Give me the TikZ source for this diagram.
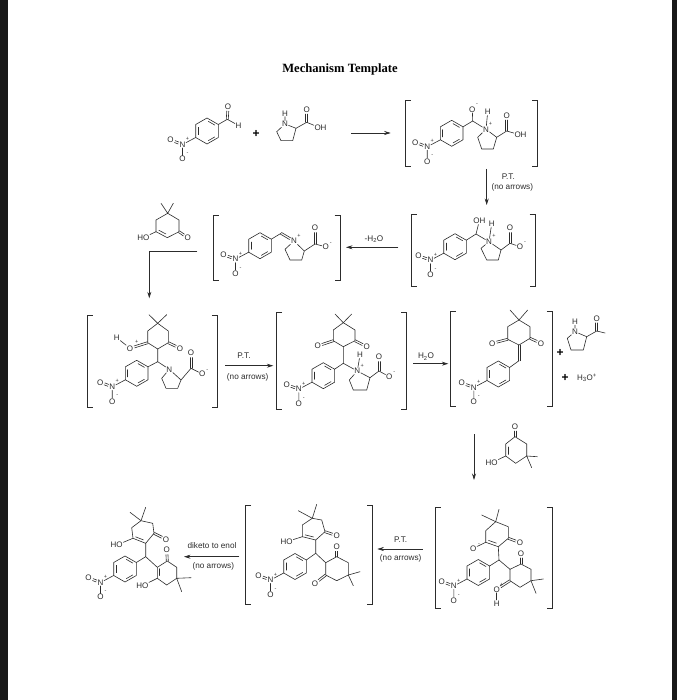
\documentclass[tikz,border=0pt]{standalone}
\usepackage{fontspec}
\setmainfont{Liberation Sans}
\newfontfamily\titlefont{Liberation Serif}
\usetikzlibrary{calc,arrows.meta}
\definecolor{ink}{HTML}{2c2c2c}
\newcommand\atomfont{\fontsize{8}{9}\selectfont}
\newcommand\labelfont{\fontsize{8.2}{9}\selectfont}
\tikzset{
  bond/.style={draw=ink,line width=.6pt,line cap=round,line join=round},
  atom/.style={inner sep=.5pt,text=ink,font=\atomfont},
  chg/.style={inner sep=0pt,text=ink,font=\fontsize{5.5}{6}\selectfont},
  lbl/.style={inner sep=0pt,text=ink,font=\labelfont},
  bigplus/.style={inner sep=0pt,text=black,font=\fontsize{12}{12}\selectfont\bfseries},
  brack/.style={draw=ink,line width=1pt,line cap=butt,line join=miter},
  rxn/.style={draw=ink,line width=.65pt,-{Stealth[length=6.5pt,width=4pt]}},
}
\newcommand\pts[1]{\foreach \n/\x/\y in {#1} {\coordinate (\n) at (\x,\y);}}
\newcommand\atm[4]{\node[atom] (#1) at (#2,#3) {#4};}
\newcommand\chgn[4]{\node[chg] (#1) at (#2,#3) {#4};}
\newcommand\lab[4]{\node[lbl] (#1) at (#2,#3) {#4};}
\newcommand\mybracket[4]{%
  \draw[brack] (#1+5.5,#3) -- (#1,#3) -- (#1,#4) -- (#1+5.5,#4);
  \draw[brack] (#2-5.5,#3) -- (#2,#3) -- (#2,#4) -- (#2-5.5,#4);}
% two parallel strokes: start trim, end trim, from, to
\newcommand\dbx[4]{%
  \draw[bond,shorten <=#1,shorten >=#2] ($(#3)!1pt!90:(#4)$) -- ($(#4)!1pt!-90:(#3)$);
  \draw[bond,shorten <=#1,shorten >=#2] ($(#3)!1pt!-90:(#4)$) -- ($(#4)!1pt!90:(#3)$);}
\newcommand\dbl[2]{\dbx{0pt}{4.6pt}{#1}{#2}}
\newcommand\cdb[3]{\draw[bond] ($($(#1)!.15!(#2)$)!.12!(#3)$) -- ($($(#2)!.15!(#1)$)!.12!(#3)$);}
\newcommand\aryl[3]{%
  \begin{scope}[shift={(#2,#3)}]
    \coordinate (#1c) at (0,0);
    \coordinate (#1t) at (0,-13);
    \coordinate (#1u) at (11.3,-6.5);
    \coordinate (#1r) at (11.3,6.5);
    \coordinate (#1b) at (0,13);
    \coordinate (#1l) at (-11.3,6.5);
    \coordinate (#1v) at (-11.3,-6.5);
    \node[atom] (#1N) at (-24.5,13.5) {N};
    \node[atom] (#1O) at (-36.5,9) {O};
    \node[atom] (#1P) at (-24.5,28) {O};
    \node[chg] (#1s) at (-19.5,8) {+};
    \node[chg] (#1m) at (-19.5,22.7) {-};
  \end{scope}
  \draw[bond] (#1t) -- (#1u) -- (#1r) -- (#1b) -- (#1l) -- (#1v) -- cycle;
  \foreach \p/\q in {#1t/#1u,#1r/#1b,#1l/#1v}
    \draw[bond] ($($(\p)!.15!(\q)$)!.2!(#1c)$) -- ($($(\q)!.15!(\p)$)!.2!(#1c)$);
  \draw[bond] (#1l) -- (#1N) -- (#1P);
  \dbx{4.2pt}{4.6pt}{#1N}{#1O}}
\begin{document}
\begin{tikzpicture}[x=1pt,y=-1pt]
\useasboundingbox (0,0) rectangle (677,700);
\fill[white] (0,0) rectangle (677,700);
\fill[black!90] (0,0) rectangle (8,700);
\fill[black!90] (672,0) rectangle (677,700);

\node[inner sep=0pt,text=black,font=\titlefont\fontsize{12.6}{14}\selectfont\bfseries] (title) at (340,69.5) {Mechanism Template};

% ---- row 1: aldehyde
\aryl{A}{207}{131}
\pts{a2/227.3/119.3}
\atm{aO}{228}{106.5}{O}
\atm{aH}{238.5}{125.5}{H}
\draw[bond] (Au) -- (a2) -- (aH);
\dbl{a2}{aO}
\node[bigplus] (plusA) at (256,134) {+};
% proline
\pts{b2/296/128.3,b3/292.7/140.7,b4/281/140.7,b5/276.7/131.7,b6/306.7/122.3}
\atm{bN}{285}{124}{N}
\atm{bH}{285}{113.3}{H}
\atm{bO}{306.7}{109.5}{O}
\atm{bOH}{320.5}{128}{OH}
\draw[bond] (bH) -- (bN) -- (b2) -- (b3) -- (b4) -- (b5) -- (bN);
\draw[bond] (b2) -- (b6) -- (bOH);
\dbl{b6}{bO}
\coordinate (r1s) at (351.3,133);
\coordinate (r1e) at (390.7,133);
\draw[rxn] (r1s) -- (r1e);

% hemiaminal alkoxide
\mybracket{405}{537.7}{100.7}{166.7}
\aryl{C}{451.7}{133.3}
\pts{c1/472.7/121,c2/496.7/137.3,c3/493.3/149,c4/481.7/149,c5/477.7/137.3,c6/506.7/131}
\atm{cO}{472.3}{109.3}{O}
\chgn{cm}{477}{104.5}{-}
\atm{cN}{486}{129.3}{N}
\atm{cH}{487.7}{112}{H}
\chgn{cp}{490.5}{124}{+}
\atm{cO2}{506.7}{115.5}{O}
\atm{cOH}{520.5}{135}{OH}
\draw[bond] (Cu) -- (c1) -- (cO);
\draw[bond] (c1) -- (cN) -- (c2) -- (c3) -- (c4) -- (c5) -- (cN);
\draw[bond] (c2) -- (c6) -- (cOH);
\dbl{c6}{cO2}
\draw[bond] (cN) -- (cH);
\coordinate (r2s) at (486.7,169);
\coordinate (r2e) at (486.7,205);
\draw[rxn] (r2s) -- (r2e);
\lab{r2a}{508.3}{176.7}{P.T.}
\lab{r2b}{512.3}{187}{(no arrows)}

% ---- row 2 right: protonated hemiaminal
\mybracket{411}{535}{214.3}{286.7}
\aryl{D}{455}{246.7}
\pts{d1/476/234,d2/501/250,d3/498.3/260,d4/486.7/260,d5/481/248.3,d6/510/243.3}
\atm{dOH}{479.3}{221}{OH}
\atm{dH}{491.7}{223.7}{H}
\atm{dN}{489}{241.7}{N}
\chgn{dp}{494}{236}{+}
\atm{dO}{510}{228}{O}
\atm{dP}{520}{246.7}{O}
\chgn{dm}{525}{242.3}{-}
\draw[bond] (Du) -- (d1) -- (dOH);
\draw[bond] (d1) -- (dN) -- (d2) -- (d3) -- (d4) -- (d5) -- (dN);
\draw[bond] (d2) -- (d6) -- (dP);
\dbl{d6}{dO}
\draw[bond] (dN) -- (dH);
\coordinate (r3s) at (398.3,247.3);
\coordinate (r3e) at (346,247.3);
\draw[rxn] (r3s) -- (r3e);
\lab{r3a}{374}{239}{-H\textsubscript{2}O}

% iminium
\mybracket{213.3}{340}{216}{280.7}
\aryl{E}{260}{245.7}
\pts{e1/281/233.3,e2/304.3/251,e3/301.7/260,e4/290/260,e5/285/249.3,e6/315/244}
\atm{eN}{294}{241}{N}
\chgn{ep}{299}{235.7}{+}
\atm{eO}{315}{228}{O}
\atm{eP}{325.7}{246.7}{O}
\chgn{em}{330.7}{243.3}{-}
\draw[bond] (Eu) -- (e1);
\dbl{e1}{eN}
\draw[bond] (eN) -- (e2) -- (e3) -- (e4) -- (e5) -- (eN);
\draw[bond] (e2) -- (e6) -- (eP);
\dbl{e6}{eO}

% dimedone enol (top left)
\pts{f1/167.7/213.3,fa/161/203.3,fb/173.3/203.3,f2/156/220,f3/156/231.7,f4/167.3/237.7,f5/179/231.7,f6/179/220}
\atm{fO}{187.7}{237.7}{O}
\atm{fHO}{143.3}{237.7}{HO}
\draw[bond] (fa) -- (f1) -- (fb);
\draw[bond] (f1) -- (f2) -- (f3) -- (f4) -- (f5) -- (f6) -- (f1);
\draw[bond] (f3) -- (fHO);
\cdb{f3}{f4}{f1}
\dbl{f5}{fO}
\coordinate (r4s) at (197.3,251);
\coordinate (r4c) at (149.3,251);
\coordinate (r4e) at (149.3,298.3);
\draw[rxn] (r4s) -- (r4c) -- (r4e);

% ---- row 3 left
\mybracket{87.3}{217.3}{315.7}{407.3}
\aryl{G}{136.7}{373.3}
\pts{g1/157.7/323.3,ga/149/314.7,gb/166.7/314.7,g2/147.7/331,g3/147.7/342.7,g4/157.7/349,g5/168.3/342.7,g6/168.3/331,g7/157.7/361.7,h2/181/380,h3/177.7/388.3,h4/166/388.3,h5/161.7/378.3,h6/191/368.3}
\atm{gO}{180}{348.3}{O}
\atm{gQ}{130}{348.3}{O}
\chgn{gp}{136.7}{342.3}{+}
\atm{gH}{116.7}{337.7}{H}
\atm{hN}{169.3}{369.3}{N}
\atm{hO}{191}{353}{O}
\atm{hP}{202.3}{374}{O}
\chgn{hm}{207.3}{370.7}{-}
\draw[bond] (ga) -- (g1) -- (gb);
\draw[bond] (g1) -- (g2) -- (g3) -- (g4) -- (g5) -- (g6) -- (g1);
\dbl{g5}{gO}
\dbl{g3}{gQ}
\draw[bond] (gQ) -- (gH);
\draw[bond] (g4) -- (g7) -- (Gu);
\draw[bond] (g7) -- (hN) -- (h2) -- (h3) -- (h4) -- (h5) -- (hN);
\draw[bond] (h2) -- (h6) -- (hP);
\dbl{h6}{hO}
\coordinate (r5s) at (225,365.7);
\coordinate (r5e) at (273.3,365.7);
\draw[rxn] (r5s) -- (r5e);
\lab{r5a}{244}{356}{P.T.}
\lab{r5b}{247.7}{377}{(no arrows)}

% ---- row 3 middle
\mybracket{276.7}{406.7}{312.7}{409.3}
\aryl{I}{323.3}{375.7}
\pts{i1/343.3/322.7,ia/335/314,ib/351.7/314,i2/333.3/330,i3/333.3/340.7,i4/343.3/346.7,i5/355/340.7,i6/355/330,i7/343.3/363.3,j2/370/377.7,j3/366.7/390,j4/353.3/390,j5/349.3/380,j6/379/371}
\atm{iO}{317.7}{346}{O}
\atm{iQ}{366.7}{346.7}{O}
\atm{jN}{357.3}{371}{N}
\atm{jH}{360}{355}{H}
\chgn{jp}{362.3}{366}{+}
\atm{jO}{379}{357}{O}
\atm{jP}{389.3}{376.7}{O}
\chgn{jm}{394.3}{372.7}{-}
\draw[bond] (ia) -- (i1) -- (ib);
\draw[bond] (i1) -- (i2) -- (i3) -- (i4) -- (i5) -- (i6) -- (i1);
\dbl{i3}{iO}
\dbl{i5}{iQ}
\draw[bond] (i4) -- (i7) -- (Iu);
\draw[bond] (i7) -- (jN) -- (j2) -- (j3) -- (j4) -- (j5) -- (jN);
\draw[bond] (j2) -- (j6) -- (jP);
\dbl{j6}{jO}
\draw[bond] (jN) -- (jH);
\coordinate (r6s) at (413.3,363.7);
\coordinate (r6e) at (448.3,363.7);
\draw[rxn] (r6s) -- (r6e);
\lab{r6a}{426}{356.7}{H\textsubscript{2}O}

% ---- row 3 right
\mybracket{450}{552.3}{311.7}{406}
\aryl{K}{498.3}{374}
\pts{k1/519/320,ka/510/310,kb/527.7/310,k2/507.7/326.7,k3/507.7/339.3,k4/519/345,k5/530/338.3,k6/530/326.7,k7/519/360.7}
\atm{kO}{492.3}{343.3}{O}
\atm{kQ}{541}{343.3}{O}
\draw[bond] (ka) -- (k1) -- (kb);
\draw[bond] (k1) -- (k2) -- (k3) -- (k4) -- (k5) -- (k6) -- (k1);
\dbl{k3}{kO}
\dbl{k5}{kQ}
\dbx{0pt}{0pt}{k4}{k7}
\draw[bond] (k7) -- (Ku);
\node[bigplus] (plusK) at (560,353.3) {+};
\pts{l2/586.7/336.7,l3/583.3/350,l4/571/350,l5/567.3/338.3,l6/596.7/331,l7/605/333}
\atm{lN}{575}{331.7}{N}
\atm{lH}{575}{321.7}{H}
\atm{lO}{596.7}{318.3}{O}
\draw[bond] (lH) -- (lN) -- (l2) -- (l3) -- (l4) -- (l5) -- (lN);
\draw[bond] (l2) -- (l6) -- (l7);
\dbl{l6}{lO}
\node[bigplus] (plusL) at (565,377.7) {+};
\atm{hyd}{587}{377.7}{H\textsubscript{3}O\textsuperscript{+}}
\coordinate (r7s) at (474,434.3);
\coordinate (r7e) at (474,480);
\draw[rxn] (r7s) -- (r7e);

% dimedone enol (below)
\pts{m1/515/436.7,m2/505.7/444,m3/505.7/456,m4/515.7/463.3,m5/526.7/456,m6/526.7/444,ma/537.3/456.7,mb/531.7/467.7}
\atm{mO}{515}{426.5}{O}
\atm{mHO}{491.7}{462.7}{HO}
\draw[bond] (m1) -- (m2) -- (m3) -- (m4) -- (m5) -- (m6) -- (m1);
\cdb{m2}{m3}{m5}
\dbl{m1}{mO}
\draw[bond] (m3) -- (mHO);
\draw[bond] (ma) -- (m5) -- (mb);

% ---- row 4 right
\mybracket{435}{552.3}{507.3}{608.3}
\aryl{P}{478.3}{572.5}
\pts{p1/495.7/521.7,pa/481.7/515,pb/499/509.3,p2/485.7/530.7,p3/485.7/542.3,p4/498.3/546.7,p5/508.3/538.3,p6/508.3/526.7,p7/499/560,q1/510/569.3,q2/521/564,q3/531/569.3,q4/531/580.7,qa/543.3/579,qb/536/593.3,q5/520/587.3,q6/510/580.7}
\atm{pO}{520}{542.7}{O}
\atm{pQ}{473.3}{548.3}{O}
\chgn{pm}{479}{545}{-}
\atm{qO}{521}{553.3}{O}
\atm{qQ}{496.7}{589.3}{O}
\chgn{qp}{501.5}{585}{+}
\atm{qH}{496.7}{603.3}{H}
\draw[bond] (pa) -- (p1) -- (pb);
\draw[bond] (p1) -- (p2) -- (p3) -- (p4) -- (p5) -- (p6) -- (p1);
\cdb{p3}{p4}{p1}
\draw[bond] (p3) -- (pQ);
\dbl{p5}{pO}
\draw[bond] (p4) -- (p7) -- (Pu);
\draw[bond] (p7) -- (q1) -- (q2) -- (q3) -- (q4) -- (q5) -- (q6) -- (q1);
\dbl{q2}{qO}
\dbl{q6}{qQ}
\draw[bond] (qQ) -- (qH);
\draw[bond] (qa) -- (q4) -- (qb);
\coordinate (r8s) at (422.7,549);
\coordinate (r8e) at (377.3,549);
\draw[rxn] (r8s) -- (r8e);
\lab{r8a}{400.7}{540}{P.T.}
\lab{r8b}{400.7}{558.7}{(no arrows)}

% ---- row 4 middle
\mybracket{245.7}{372.7}{505.7}{604}
\aryl{S}{295}{566.5}
\pts{s1/312.3/518.3,sa/298.3/510.7,sb/316.7/504.3,s2/302.3/525,s3/302.3/536.7,s4/315.7/540,s5/325/531.7,s6/321.7/520,s7/315.7/553.3,t1/325.7/562.7,t2/336.7/556.7,t3/348.3/562.7,t4/348.3/575,ta/360/571.7,tb/353.3/585.7,t5/336.7/580.7,t6/325.7/575}
\atm{sO}{336.7}{535.7}{O}
\atm{sHO}{286.7}{541.7}{HO}
\atm{tO}{336.7}{546.7}{O}
\atm{tQ}{315}{583.3}{O}
\draw[bond] (sa) -- (s1) -- (sb);
\draw[bond] (s1) -- (s2) -- (s3) -- (s4) -- (s5) -- (s6) -- (s1);
\cdb{s3}{s4}{s1}
\draw[bond] (s3) -- (sHO);
\dbl{s5}{sO}
\draw[bond] (s4) -- (s7) -- (Su);
\draw[bond] (s7) -- (t1) -- (t2) -- (t3) -- (t4) -- (t5) -- (t6) -- (t1);
\dbl{t2}{tO}
\dbl{t6}{tQ}
\draw[bond] (ta) -- (t4) -- (tb);
\coordinate (r9s) at (239.3,556.7);
\coordinate (r9e) at (184,556.7);
\draw[rxn] (r9s) -- (r9e);
\lab{r9a}{212}{545.3}{diketo to enol}
\lab{r9b}{213.3}{566.3}{(no arrows)}

% ---- row 4 left: product
\aryl{U}{125}{569}
\pts{u1/141/520.7,ua/130/512.3,ub/145.7/507.3,u2/131.7/527.7,u3/133/538.3,u4/145.7/543.3,u5/154/533.3,u6/152.7/523.3,u7/145.7/556.7,v1/157.3/567.3,v2/167.3/561,v3/176.7/567.3,v4/176.7/578.3,va/191/577.7,vb/181.7/591.7,v5/166.7/585,v6/157.3/578.3}
\atm{uO}{166}{539.3}{O}
\atm{uHO}{116.7}{545}{HO}
\atm{vO}{166.7}{550}{O}
\atm{vHO}{142.3}{585.7}{HO}
\draw[bond] (ua) -- (u1) -- (ub);
\draw[bond] (u1) -- (u2) -- (u3) -- (u4) -- (u5) -- (u6) -- (u1);
\cdb{u3}{u4}{u1}
\draw[bond] (u3) -- (uHO);
\dbl{u5}{uO}
\draw[bond] (u4) -- (u7) -- (Uu);
\draw[bond] (u7) -- (v1) -- (v2) -- (v3) -- (v4) -- (v5) -- (v6) -- (v1);
\cdb{v1}{v6}{v3}
\dbl{v2}{vO}
\draw[bond] (v6) -- (vHO);
\draw[bond] (va) -- (v4) -- (vb);
\end{tikzpicture}
\end{document}
